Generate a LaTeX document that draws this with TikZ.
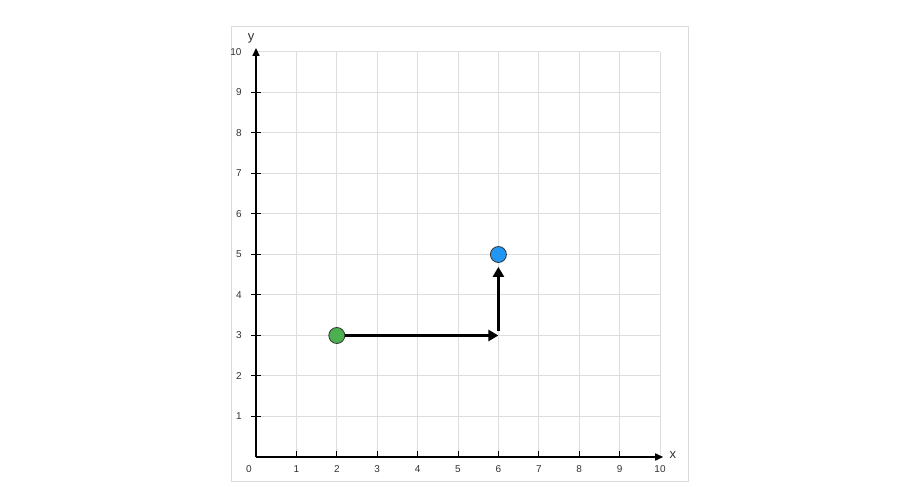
\documentclass[tikz,border=0pt]{standalone}
\usepackage{fontspec}
\setmainfont{Liberation Sans}
\usetikzlibrary{arrows.meta}
\definecolor{gridc}{HTML}{DDDDDD}
\definecolor{framec}{HTML}{DADADA}
\definecolor{labc}{HTML}{333333}
\definecolor{greenpt}{HTML}{4CAF50}
\definecolor{bluept}{HTML}{2196F3}
\tikzset{
  gridline/.style={draw=gridc, line width=1pt},
  axisline/.style={draw=black, line width=1.6pt, -{Triangle[length=8pt,width=7pt]}},
  tickmark/.style={draw=black, line width=1pt},
  ticklab/.style={font=\fontsize{10}{11}\selectfont, text=labc, inner sep=0pt},
  axislab/.style={font=\fontsize{13}{14}\selectfont, text=labc, inner sep=0pt},
  dot/.style={circle, draw=black!80, line width=0.8pt, minimum size=16pt, inner sep=0pt},
  movearrow/.style={draw=black, line width=3.4pt, -{Triangle[length=10pt,width=11pt]}}
}
\begin{document}
\begin{tikzpicture}[x=40.4pt,y=40.5pt]
\useasboundingbox[fill=white] (-256pt,-45pt) rectangle (661pt,457pt);
\draw[framec, line width=1pt] (-25pt,-25pt) rectangle (432pt,430pt);
% grid
\foreach \i in {1,...,10} {
  \draw[gridline] (\i,0) -- (\i,10);
  \draw[gridline] (0,\i) -- (10,\i);
}
% ticks
\foreach \i in {1,...,9} {
  \draw[tickmark] (\i,0) -- ++(0,6pt);
  \draw[tickmark] (-5pt,\i) -- ++(10pt,0);
  \node[ticklab] at (\i,-12pt) {\i};
  \node[ticklab] at (-17pt,\i) {\i};
}
\node[ticklab] at (10,-12pt) {10};
\node[ticklab] at (-20pt,10) {10};
\node[ticklab] at (-7pt,-12pt) {0};
% axes
\draw[axisline] (0,0) -- (10.08,0);
\draw[axisline] (0,0) -- (0,10.1);
\node[axislab] (xl) at (10.32,0.05) {x};
\node[axislab] (yl) at (-0.12,10.33) {y};
% points
\node[dot, fill=greenpt] (g) at (2,3) {};
\node[dot, fill=bluept] (b) at (6,5) {};
\coordinate (c) at (6,3);
\draw[movearrow] (g) -- (c);
\draw[movearrow, shorten <=4pt, shorten >=4pt] (c) -- (b);
\end{tikzpicture}
\end{document}
